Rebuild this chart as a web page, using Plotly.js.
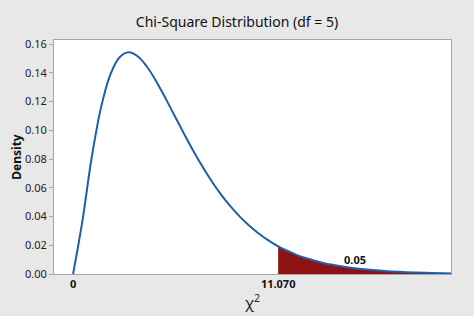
<!DOCTYPE html>
<html>
<head>
<meta charset="utf-8">
<script src="https://cdn.plot.ly/plotly-3.0.1.min.js"></script>
<style>html,body{margin:0;padding:0;background:#e8e8e8;}#chart{width:474px;height:316px;}</style>
</head>
<body>
<div id="chart"></div>
<script>
// Chi-square (df = 5) density
const chiX = [0, 0.5, 1, 1.5, 2, 2.5, 3, 3.5, 4, 4.5, 5, 5.5, 6, 6.5, 7, 7.5, 8, 8.5, 9, 9.5, 10, 10.5, 11, 11.07, 11.5, 12, 12.5, 13, 13.5, 14, 15, 16, 17, 18, 19, 20, 20.5];
const density = [0, 0.0366, 0.0807, 0.1154, 0.1384, 0.1506, 0.1542, 0.1513, 0.1440, 0.1338, 0.1220, 0.1096, 0.0973, 0.0854, 0.0744, 0.0642, 0.0551, 0.0470, 0.0399, 0.0337, 0.0283, 0.0237, 0.0198, 0.0193, 0.0165, 0.0137, 0.0113, 0.0094, 0.0077, 0.0064, 0.0043, 0.0029, 0.0019, 0.0013, 0.0008, 0.0005, 0.0004];
// Shaded upper tail (area 0.05) beyond the critical value
const tailX = [11.07, 11.5, 12, 12.5, 13, 13.5, 14, 15, 16, 17, 18, 19, 20, 20.5];
const tailDensity = [0.0193, 0.0165, 0.0137, 0.0113, 0.0094, 0.0077, 0.0064, 0.0043, 0.0029, 0.0019, 0.0013, 0.0008, 0.0005, 0.0004];
const xTickVals = [0, 11.07];
const xTickText = ['0', '11.070'];
const tailLabel = '0.05';
const tailLabelPos = [15.2, 0.0104];

const font = 'Segoe UI, "Noto Sans", "Open Sans", sans-serif';

const traces = [
  {x: tailX, y: tailDensity, type: 'scatter', mode: 'lines', fill: 'tozeroy',
   fillcolor: '#8e1212', line: {width: 0, color: '#8e1212'}, hoverinfo: 'skip'},
  {x: chiX, y: density, type: 'scatter', mode: 'lines', line: {color: '#1f5ea8', width: 2, shape: 'spline'}}
];

const layout = {
  width: 474, height: 316,
  paper_bgcolor: '#e8e8e8', plot_bgcolor: '#ffffff',
  margin: {l: 54, r: 23, t: 40, b: 42},
  showlegend: false,
  font: {family: font, color: '#222222', size: 11},
  title: {text: 'Chi-Square Distribution (df = 5)', x: 0.5, xanchor: 'center', y: 0.93, yanchor: 'middle',
          font: {family: font, size: 14, color: '#111111'}},
  xaxis: {range: [-1.03, 20.4], tickvals: xTickVals, ticktext: xTickText, ticks: '', showgrid: false, zeroline: false,
          showline: true, linecolor: '#a6a6a6', linewidth: 1, mirror: true,
          tickfont: {family: font, size: 11, weight: 'bold', color: '#111111'},
          title: {text: 'χ<sup>2</sup>', standoff: 7, font: {family: font, size: 15, color: '#222222'}}},
  yaxis: {range: [0, 0.1628], tickvals: [0, 0.02, 0.04, 0.06, 0.08, 0.10, 0.12, 0.14, 0.16], tickformat: '.2f',
          ticks: 'outside', ticklen: 4, tickcolor: '#a6a6a6', showgrid: false, zeroline: false,
          showline: true, linecolor: '#a6a6a6', linewidth: 1, mirror: true,
          tickfont: {family: font, size: 11, color: '#222222'},
          title: {text: 'Density', standoff: 0, font: {family: font, size: 12, weight: 'bold', color: '#111111'}}},
  annotations: [
    {x: tailLabelPos[0], y: tailLabelPos[1], xref: 'x', yref: 'y', text: tailLabel, showarrow: false,
     font: {family: font, size: 11, weight: 'bold', color: '#111111'}}
  ]
};

Plotly.newPlot('chart', traces, layout, {displayModeBar: false, staticPlot: true});
</script>
</body>
</html>
